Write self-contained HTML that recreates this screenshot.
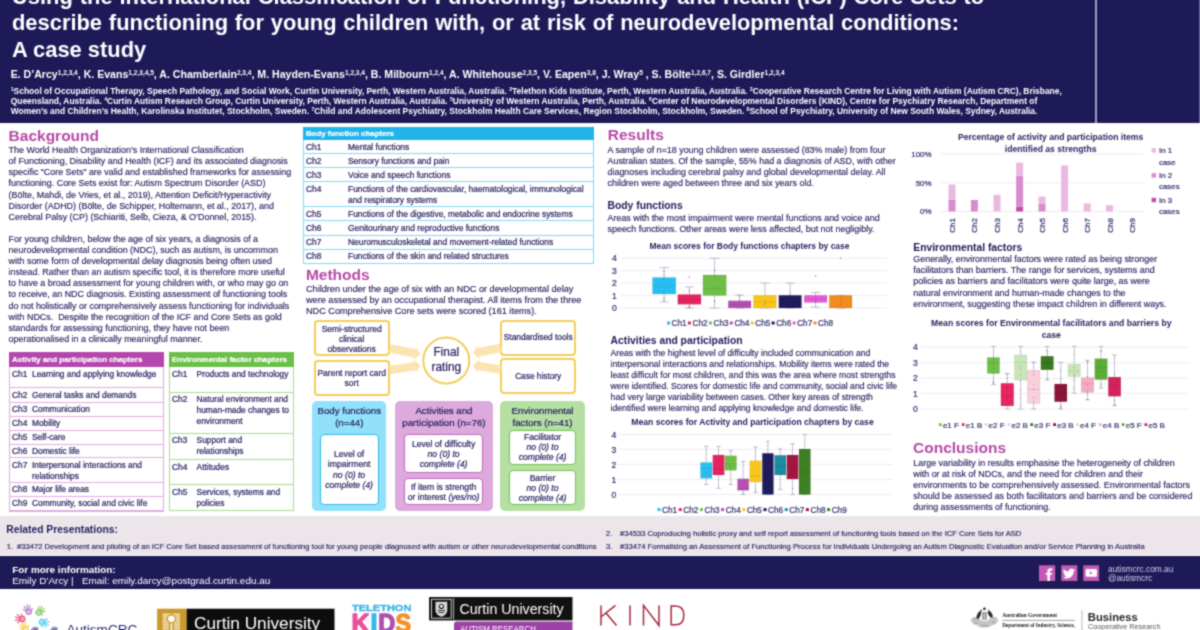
<!DOCTYPE html><html><head><meta charset="utf-8"><title>poster</title><style>
*{margin:0;padding:0;box-sizing:border-box}
html,body{width:1200px;height:630px;overflow:hidden;background:#fff}
body{position:relative;font-family:"Liberation Sans",sans-serif;color:#241f5f}
#wrap{position:absolute;left:0;top:0;width:1200px;height:630px;overflow:hidden;background:#fff;filter:url(#soft);will-change:transform}
.abs{position:absolute;white-space:nowrap}
.hdr{position:absolute;left:0;top:0;width:1200px;height:122.7px;background:#1e1a58}
.title{font-weight:bold;color:#fff}
.auth{font-weight:bold;color:#fff}
.auth sup,.aff sup{font-size:62%;line-height:0;vertical-align:baseline;position:relative;top:-0.52em}
.aff{font-weight:bold;color:#fff}
.h1{font-weight:bold;color:#b549a6}
.h2{font-weight:bold;color:#1f1a5a}
.p{color:#241f5f;-webkit-text-stroke:0.15px}
.ct{font-size:8.6px;font-weight:bold;color:#241f5f;line-height:12px;text-align:center}
.dg{text-align:center;color:#241f5f}
.tt,.dg{-webkit-text-stroke:0.22px}
.rp{font-size:7.645px;line-height:9px;color:#241f5f;-webkit-text-stroke:0.15px}
.tbl{position:absolute;border-collapse:collapse;font-size:8px;color:#241f5f}
.band{position:absolute;left:0;top:515.6px;width:1200px;height:39.7px;background:#ece6ea}
.foot{position:absolute;left:0;top:556.3px;width:1200px;height:33.2px;background:#1e1a58}
</style></head><body><svg width="0" height="0" style="position:absolute"><filter id="soft" x="0" y="0" width="100%" height="100%" color-interpolation-filters="sRGB"><feConvolveMatrix order="3" kernelMatrix="1 2 1 2 8 2 1 2 1" edgeMode="duplicate" preserveAlpha="true"/></filter></svg><div id="wrap"><div class="hdr"></div>
<div class="abs" style="left:1095.3px;top:0;width:1.5px;height:122.7px;background:#a09ec4"></div>
<div class="abs" style="left:1199px;top:0;width:1px;height:122.7px;background:#6a6696"></div>
<div class="abs title" id="ti0" style="left:12.00px;top:-17px;font-size:21.90px;line-height:27px;height:27px;word-spacing:0.85px;">Using the International Classification of Functioning, Disability and Health (ICF) Core Sets to</div>
<div class="abs title" id="ti1" style="left:12.00px;top:9px;font-size:21.90px;line-height:27px;height:27px;word-spacing:0.74px;">describe functioning for young children with, or at risk of neurodevelopmental conditions:</div>
<div class="abs title" id="ti2" style="left:12.00px;top:36px;font-size:21.90px;line-height:27px;height:27px;">A case study</div>
<div class="abs auth" id="au" style="left:10.70px;top:68px;font-size:10.58px;line-height:13px;height:13px;">E. D’Arcy<sup>1,2,3,4</sup>, K. Evans<sup>1,2,3,4,5</sup>, A. Chamberlain<sup>2,3,4</sup>, M. Hayden-Evans<sup>1,2,3,4</sup>, B. Milbourn<sup>1,2,4</sup>, A. Whitehouse<sup>2,3,5</sup>, V. Eapen<sup>3,8</sup>, J. Wray<sup>5</sup> , S. Bölte<sup>1,2,6,7</sup>, S. Girdler<sup>1,2,3,4</sup></div>
<div class="abs aff" id="af0" style="left:10.70px;top:86px;font-size:8.45px;line-height:10px;height:10px;"><sup>1</sup>School of Occupational Therapy, Speech Pathology, and Social Work, Curtin University, Perth, Western Australia, Australia. <sup>2</sup>Telethon Kids Institute, Perth, Western Australia, Australia. <sup>3</sup>Cooperative Research Centre for Living with Autism (Autism CRC), Brisbane,</div>
<div class="abs aff" id="af1" style="left:10.70px;top:96px;font-size:8.45px;line-height:10px;height:10px;">Queensland, Australia. <sup>4</sup>Curtin Autism Research Group, Curtin University, Perth, Western Australia, Australia. <sup>5</sup>University of Western Australia, Perth, Australia. <sup>6</sup>Center of Neurodevelopmental Disorders (KIND), Centre for Psychiatry Research, Department of</div>
<div class="abs aff" id="af2" style="left:10.70px;top:106px;font-size:8.45px;line-height:10px;height:10px;">Women’s and Children’s Health, Karolinska Institutet, Stockholm, Sweden. <sup>7</sup>Child and Adolescent Psychiatry, Stockholm Health Care Services, Region Stockholm, Stockholm, Sweden. <sup>8</sup>School of Psychiatry, University of New South Wales, Sydney, Australia.</div>
<div class="abs h1" style="left:8.60px;top:128px;font-size:15.50px;line-height:16px;height:16px;">Background</div>
<div class="abs p" id="bg0" style="left:8.60px;top:145px;font-size:8.93px;line-height:11px;height:11px;">The World Health Organization’s International Classification</div>
<div class="abs p" id="bg1" style="left:8.60px;top:156px;font-size:8.93px;line-height:11px;height:11px;">of Functioning, Disability and Health (ICF) and its associated diagnosis</div>
<div class="abs p" id="bg2" style="left:8.60px;top:167px;font-size:8.93px;line-height:11px;height:11px;">specific “Core Sets” are valid and established frameworks for assessing</div>
<div class="abs p" id="bg3" style="left:8.60px;top:178px;font-size:8.93px;line-height:11px;height:11px;">functioning. Core Sets exist for: Autism Spectrum Disorder (ASD)</div>
<div class="abs p" id="bg4" style="left:8.60px;top:190px;font-size:8.93px;line-height:11px;height:11px;">(Bölte, Mahdi, de Vries, et al., 2019), Attention Deficit/Hyperactivity</div>
<div class="abs p" id="bg5" style="left:8.60px;top:201px;font-size:8.93px;line-height:11px;height:11px;">Disorder (ADHD) (Bölte, de Schipper, Holtemann, et al., 2017), and</div>
<div class="abs p" id="bg6" style="left:8.60px;top:212px;font-size:8.93px;line-height:11px;height:11px;">Cerebral Palsy (CP) (Schiariti, Selb, Cieza, &amp; O’Donnel, 2015).</div>
<div class="abs p" id="bg8" style="left:8.60px;top:234px;font-size:8.93px;line-height:11px;height:11px;">For young children, below the age of six years, a diagnosis of a</div>
<div class="abs p" id="bg9" style="left:8.60px;top:245px;font-size:8.93px;line-height:11px;height:11px;">neurodevelopmental condition (NDC), such as autism, is uncommon</div>
<div class="abs p" id="bg10" style="left:8.60px;top:256px;font-size:8.93px;line-height:11px;height:11px;">with some form of developmental delay diagnosis being often used</div>
<div class="abs p" id="bg11" style="left:8.60px;top:267px;font-size:8.93px;line-height:11px;height:11px;">instead. Rather than an autism specific tool, it is therefore more useful</div>
<div class="abs p" id="bg12" style="left:8.60px;top:278px;font-size:8.93px;line-height:11px;height:11px;">to have a broad assessment for young children with, or who may go on</div>
<div class="abs p" id="bg13" style="left:8.60px;top:289px;font-size:8.93px;line-height:11px;height:11px;">to receive, an NDC diagnosis. Existing assessment of functioning tools</div>
<div class="abs p" id="bg14" style="left:8.60px;top:301px;font-size:8.93px;line-height:11px;height:11px;">do not holistically or comprehensively assess functioning for individuals</div>
<div class="abs p" id="bg15" style="left:8.60px;top:312px;font-size:8.93px;line-height:11px;height:11px;">with NDCs.&nbsp; Despite the recognition of the ICF and Core Sets as gold</div>
<div class="abs p" id="bg16" style="left:8.60px;top:323px;font-size:8.93px;line-height:11px;height:11px;">standards for assessing functioning, they have not been</div>
<div class="abs p" id="bg17" style="left:8.60px;top:334px;font-size:8.93px;line-height:11px;height:11px;">operationalised in a clinically meaningful manner.</div>
<div class="abs" style="left:8.6px;top:352.0px;width:155.7px;height:159.0px;border:1px solid #e6a9df;background:#fff"></div>
<div class="abs" style="left:8.6px;top:352.0px;width:155.7px;height:15.0px;background:#b447ad"></div>
<div class="abs tt" style="left:12.0px;top:354.4px;font-size:7.96px;line-height:11px;color:#fff;font-weight:bold">Activity and participation chapters</div>
<div class="abs" style="left:8.6px;top:386.9px;width:155.7px;height:1px;background:#e6a9df"></div>
<div class="abs tt" style="left:12.0px;top:369.1px;font-size:8.35px;line-height:11px">Ch1</div>
<div class="abs tt" style="left:32.0px;top:369.1px;font-size:8.35px;line-height:11px">Learning and applying knowledge</div>
<div class="abs" style="left:8.6px;top:401.8px;width:155.7px;height:1px;background:#e6a9df"></div>
<div class="abs tt" style="left:12.0px;top:389.5px;font-size:8.35px;line-height:11px">Ch2</div>
<div class="abs tt" style="left:32.0px;top:389.5px;font-size:8.35px;line-height:11px">General tasks and demands</div>
<div class="abs" style="left:8.6px;top:415.8px;width:155.7px;height:1px;background:#e6a9df"></div>
<div class="abs tt" style="left:12.0px;top:404.4px;font-size:8.35px;line-height:11px">Ch3</div>
<div class="abs tt" style="left:32.0px;top:404.4px;font-size:8.35px;line-height:11px">Communication</div>
<div class="abs" style="left:8.6px;top:429.8px;width:155.7px;height:1px;background:#e6a9df"></div>
<div class="abs tt" style="left:12.0px;top:418.4px;font-size:8.35px;line-height:11px">Ch4</div>
<div class="abs tt" style="left:32.0px;top:418.4px;font-size:8.35px;line-height:11px">Mobility</div>
<div class="abs" style="left:8.6px;top:443.5px;width:155.7px;height:1px;background:#e6a9df"></div>
<div class="abs tt" style="left:12.0px;top:432.4px;font-size:8.35px;line-height:11px">Ch5</div>
<div class="abs tt" style="left:32.0px;top:432.4px;font-size:8.35px;line-height:11px">Self-care</div>
<div class="abs" style="left:8.6px;top:457.2px;width:155.7px;height:1px;background:#e6a9df"></div>
<div class="abs tt" style="left:12.0px;top:446.1px;font-size:8.35px;line-height:11px">Ch6</div>
<div class="abs tt" style="left:32.0px;top:446.1px;font-size:8.35px;line-height:11px">Domestic life</div>
<div class="abs" style="left:8.6px;top:481.8px;width:155.7px;height:1px;background:#e6a9df"></div>
<div class="abs tt" style="left:12.0px;top:459.8px;font-size:8.35px;line-height:11px">Ch7</div>
<div class="abs tt" style="left:32.0px;top:459.8px;font-size:8.35px;line-height:11px">Interpersonal interactions and<br>relationships</div>
<div class="abs" style="left:8.6px;top:495.8px;width:155.7px;height:1px;background:#e6a9df"></div>
<div class="abs tt" style="left:12.0px;top:484.4px;font-size:8.35px;line-height:11px">Ch8</div>
<div class="abs tt" style="left:32.0px;top:484.4px;font-size:8.35px;line-height:11px">Major life areas</div>
<div class="abs" style="left:8.6px;top:510.5px;width:155.7px;height:1px;background:#e6a9df"></div>
<div class="abs tt" style="left:12.0px;top:498.4px;font-size:8.35px;line-height:11px">Ch9</div>
<div class="abs tt" style="left:32.0px;top:498.4px;font-size:8.35px;line-height:11px">Community, social and civic life</div>
<div class="abs" style="left:168.6px;top:352.0px;width:125.1px;height:158.8px;border:1px solid #a9dd92;background:#fff"></div>
<div class="abs" style="left:168.6px;top:352.0px;width:125.1px;height:15.0px;background:#6cc04a"></div>
<div class="abs tt" style="left:172.0px;top:354.4px;font-size:7.96px;line-height:11px;color:#fff;font-weight:bold">Environmental factor chapters</div>
<div class="abs" style="left:168.6px;top:391.8px;width:125.1px;height:1px;background:#a9dd92"></div>
<div class="abs tt" style="left:172.0px;top:369.1px;font-size:8.35px;line-height:11px">Ch1</div>
<div class="abs tt" style="left:196.6px;top:369.1px;font-size:8.35px;line-height:11px">Products and technology</div>
<div class="abs" style="left:168.6px;top:432.5px;width:125.1px;height:1px;background:#a9dd92"></div>
<div class="abs tt" style="left:172.0px;top:394.4px;font-size:8.35px;line-height:11px">Ch2</div>
<div class="abs tt" style="left:196.6px;top:394.4px;font-size:8.35px;line-height:11px">Natural environment and<br>human-made changes to<br>environment</div>
<div class="abs" style="left:168.6px;top:458.9px;width:125.1px;height:1px;background:#a9dd92"></div>
<div class="abs tt" style="left:172.0px;top:435.1px;font-size:8.35px;line-height:11px">Ch3</div>
<div class="abs tt" style="left:196.6px;top:435.1px;font-size:8.35px;line-height:11px">Support and<br>relationships</div>
<div class="abs" style="left:168.6px;top:484.1px;width:125.1px;height:1px;background:#a9dd92"></div>
<div class="abs tt" style="left:172.0px;top:461.5px;font-size:8.35px;line-height:11px">Ch4</div>
<div class="abs tt" style="left:196.6px;top:461.5px;font-size:8.35px;line-height:11px">Attitudes</div>
<div class="abs" style="left:168.6px;top:510.3px;width:125.1px;height:1px;background:#a9dd92"></div>
<div class="abs tt" style="left:172.0px;top:486.7px;font-size:8.35px;line-height:11px">Ch5</div>
<div class="abs tt" style="left:196.6px;top:486.7px;font-size:8.35px;line-height:11px">Services, systems and<br>policies</div>
<div class="abs" style="left:302.7px;top:127.0px;width:291.6px;height:136.8px;border:1px solid #84d5f5;background:#fff"></div>
<div class="abs" style="left:302.7px;top:127.0px;width:291.6px;height:13.0px;background:#21b4ea"></div>
<div class="abs tt" style="left:305.9px;top:127.9px;font-size:7.90px;line-height:11px;color:#fff;font-weight:bold">Body function chapters</div>
<div class="abs" style="left:302.7px;top:153.2px;width:291.6px;height:1px;background:#84d5f5"></div>
<div class="abs tt" style="left:305.9px;top:142.2px;font-size:8.42px;line-height:11px">Ch1</div>
<div class="abs tt" style="left:348.0px;top:142.2px;font-size:8.42px;line-height:11px">Mental functions</div>
<div class="abs" style="left:302.7px;top:167.3px;width:291.6px;height:1px;background:#84d5f5"></div>
<div class="abs tt" style="left:305.9px;top:155.9px;font-size:8.42px;line-height:11px">Ch2</div>
<div class="abs tt" style="left:348.0px;top:155.9px;font-size:8.42px;line-height:11px">Sensory functions and pain</div>
<div class="abs" style="left:302.7px;top:181.1px;width:291.6px;height:1px;background:#84d5f5"></div>
<div class="abs tt" style="left:305.9px;top:170.0px;font-size:8.42px;line-height:11px">Ch3</div>
<div class="abs tt" style="left:348.0px;top:170.0px;font-size:8.42px;line-height:11px">Voice and speech functions</div>
<div class="abs" style="left:302.7px;top:206.1px;width:291.6px;height:1px;background:#84d5f5"></div>
<div class="abs tt" style="left:305.9px;top:183.8px;font-size:8.42px;line-height:11px">Ch4</div>
<div class="abs tt" style="left:348.0px;top:183.8px;font-size:8.42px;line-height:11px">Functions of the cardiovascular, haematological, immunological<br>and respiratory systems</div>
<div class="abs" style="left:302.7px;top:220.1px;width:291.6px;height:1px;background:#84d5f5"></div>
<div class="abs tt" style="left:305.9px;top:208.8px;font-size:8.42px;line-height:11px">Ch5</div>
<div class="abs tt" style="left:348.0px;top:208.8px;font-size:8.42px;line-height:11px">Functions of the digestive, metabolic and endocrine systems</div>
<div class="abs" style="left:302.7px;top:234.5px;width:291.6px;height:1px;background:#84d5f5"></div>
<div class="abs tt" style="left:305.9px;top:222.8px;font-size:8.42px;line-height:11px">Ch6</div>
<div class="abs tt" style="left:348.0px;top:222.8px;font-size:8.42px;line-height:11px">Genitourinary and reproductive functions</div>
<div class="abs" style="left:302.7px;top:248.6px;width:291.6px;height:1px;background:#84d5f5"></div>
<div class="abs tt" style="left:305.9px;top:237.2px;font-size:8.42px;line-height:11px">Ch7</div>
<div class="abs tt" style="left:348.0px;top:237.2px;font-size:8.42px;line-height:11px">Neuromusculoskeletal and movement-related functions</div>
<div class="abs" style="left:302.7px;top:263.3px;width:291.6px;height:1px;background:#84d5f5"></div>
<div class="abs tt" style="left:305.9px;top:251.3px;font-size:8.42px;line-height:11px">Ch8</div>
<div class="abs tt" style="left:348.0px;top:251.3px;font-size:8.42px;line-height:11px">Functions of the skin and related structures</div>
<div class="abs h1" style="left:305.90px;top:267px;font-size:15.50px;line-height:16px;height:16px;">Methods</div>
<div class="abs p" id="meth0" style="left:306.00px;top:284px;font-size:9.14px;line-height:11px;height:11px;">Children under the age of six with an NDC or developmental delay</div>
<div class="abs p" id="meth1" style="left:306.00px;top:295px;font-size:9.14px;line-height:11px;height:11px;">were assessed by an occupational therapist. All items from the three</div>
<div class="abs p" id="meth2" style="left:306.00px;top:306px;font-size:9.14px;line-height:11px;height:11px;">NDC Comprehensive Core sets were scored (161 items).</div>
<div class="abs h1" style="left:607.80px;top:127px;font-size:15.50px;line-height:16px;height:16px;">Results</div>
<div class="abs p" id="res0" style="left:607.50px;top:145px;font-size:8.93px;line-height:11px;height:11px;">A sample of n=18 young children were assessed (83% male) from four</div>
<div class="abs p" id="res1" style="left:607.50px;top:156px;font-size:8.93px;line-height:11px;height:11px;">Australian states. Of the sample, 55% had a diagnosis of ASD, with other</div>
<div class="abs p" id="res2" style="left:607.50px;top:167px;font-size:8.93px;line-height:11px;height:11px;">diagnoses including cerebral palsy and global developmental delay. All</div>
<div class="abs p" id="res3" style="left:607.50px;top:178px;font-size:8.93px;line-height:11px;height:11px;">children were aged between three and six years old.</div>
<div class="abs h2" style="left:607.50px;top:200px;font-size:10.33px;line-height:11px;height:11px;">Body functions</div>
<div class="abs p" id="bf0" style="left:607.50px;top:213px;font-size:8.93px;line-height:11px;height:11px;">Areas with the most impairment were mental functions and voice and</div>
<div class="abs p" id="bf1" style="left:607.50px;top:224px;font-size:8.93px;line-height:11px;height:11px;">speech functions. Other areas were less affected, but not negligibly.</div>
<div class="abs ct" style="left:599.5px;width:300px;top:239.7px;font-size:8.47px">Mean scores for Body functions chapters by case</div>
<div class="abs h2" style="left:610.60px;top:335px;font-size:10.33px;line-height:11px;height:11px;">Activities and participation</div>
<div class="abs p" id="ap0" style="left:610.60px;top:348px;font-size:8.63px;line-height:11px;height:11px;">Areas with the highest level of difficulty included communication and</div>
<div class="abs p" id="ap1" style="left:610.60px;top:359px;font-size:8.63px;line-height:11px;height:11px;">interpersonal interactions and relationships. Mobility items were rated the</div>
<div class="abs p" id="ap2" style="left:610.60px;top:370px;font-size:8.63px;line-height:11px;height:11px;">least difficult for most children, and this was the area where most strengths</div>
<div class="abs p" id="ap3" style="left:610.60px;top:381px;font-size:8.63px;line-height:11px;height:11px;">were identified. Scores for domestic life and community, social and civic life</div>
<div class="abs p" id="ap4" style="left:610.60px;top:392px;font-size:8.63px;line-height:11px;height:11px;">had very large variability between cases. Other key areas of strength</div>
<div class="abs p" id="ap5" style="left:610.60px;top:403px;font-size:8.63px;line-height:11px;height:11px;">identified were learning and applying knowledge and domestic life.</div>
<div class="abs ct" style="left:602.5px;width:300px;top:416px;font-size:8.59px">Mean scores for Activity and participation chapters by case</div>
<div class="abs ct" style="left:900.6px;width:300px;top:130.7px;font-size:8.61px">Percentage of activity and participation items<br>identified as strengths</div>
<div class="abs h2" style="left:913.30px;top:242px;font-size:10.33px;line-height:11px;height:11px;">Environmental factors</div>
<div class="abs p" id="ef0" style="left:913.30px;top:254px;font-size:8.93px;line-height:11px;height:11px;">Generally, environmental factors were rated as being stronger</div>
<div class="abs p" id="ef1" style="left:913.30px;top:265px;font-size:8.93px;line-height:11px;height:11px;">facilitators than barriers. The range for services, systems and</div>
<div class="abs p" id="ef2" style="left:913.30px;top:276px;font-size:8.93px;line-height:11px;height:11px;">policies as barriers and facilitators were quite large, as were</div>
<div class="abs p" id="ef3" style="left:913.30px;top:288px;font-size:8.93px;line-height:11px;height:11px;">natural environment and human-made changes to the</div>
<div class="abs p" id="ef4" style="left:913.30px;top:299px;font-size:8.93px;line-height:11px;height:11px;">environment, suggesting these impact children in different ways.</div>
<div class="abs ct" style="left:901.3px;width:300px;top:316.7px;font-size:8.69px">Mean scores for Environmental facilitators and barriers by<br>case</div>
<div class="abs h1" style="left:913.00px;top:440px;font-size:15.50px;line-height:16px;height:16px;">Conclusions</div>
<div class="abs p" id="con0" style="left:913.30px;top:458px;font-size:8.93px;line-height:11px;height:11px;">Large variability in results emphasise the heterogeneity of children</div>
<div class="abs p" id="con1" style="left:913.30px;top:469px;font-size:8.93px;line-height:11px;height:11px;">with or at risk of NDCs, and the need for children and their</div>
<div class="abs p" id="con2" style="left:913.30px;top:480px;font-size:8.93px;line-height:11px;height:11px;">environments to be comprehensively assessed. Environmental factors</div>
<div class="abs p" id="con3" style="left:913.30px;top:491px;font-size:8.93px;line-height:11px;height:11px;">should be assessed as both facilitators and barriers and be considered</div>
<div class="abs p" id="con4" style="left:913.30px;top:502px;font-size:8.93px;line-height:11px;height:11px;">during assessments of functioning.</div>
<div class="abs" style="left:313.8px;top:320.3px;width:75.8px;height:36.1px;border:2px solid #f4cd58;border-radius:4px;background:#fff"></div><div class="abs dg" style="left:313.8px;width:75.8px;top:323.6px;font-size:8.50px;line-height:10.00px">Semi-structured<br>clinical<br>observations</div>
<div class="abs" style="left:313.8px;top:360.0px;width:75.8px;height:36.0px;border:2px solid #f4cd58;border-radius:4px;background:#fff"></div><div class="abs dg" style="left:313.8px;width:75.8px;top:367.7px;font-size:8.50px;line-height:10.20px">Parent report card<br>sort</div>
<div class="abs" style="left:500.4px;top:319.7px;width:75.6px;height:35.9px;border:2px solid #f4cd58;border-radius:4px;background:#fff"></div><div class="abs dg" style="left:500.4px;width:75.6px;top:332.4px;font-size:8.30px;line-height:10.00px">Standardised tools</div>
<div class="abs" style="left:500.4px;top:358.1px;width:75.6px;height:36.4px;border:2px solid #f4cd58;border-radius:4px;background:#fff"></div><div class="abs dg" style="left:500.4px;width:75.6px;top:371.2px;font-size:8.30px;line-height:10.00px">Case history</div>
<svg class="abs" style="left:0;top:0" width="1200" height="630" viewBox="0 0 1200 630"><polygon points="389.0,352.5 414.0,357.4 413.5,359.9 420.3,354.4 416.1,346.7 415.6,349.2 390.6,344.3" fill="#fce4b1"/><polygon points="390.5,374.2 415.4,370.2 415.8,372.8 420.3,365.2 413.7,359.4 414.1,361.9 389.1,366.0" fill="#fce4b1"/><polygon points="500.0,343.8 477.7,348.1 477.2,345.6 473.0,353.3 479.8,358.9 479.3,356.4 501.6,352.0" fill="#fce4b1"/><polygon points="501.4,365.3 479.2,361.9 479.6,359.4 473.0,365.2 477.5,372.7 477.9,370.2 500.2,373.7" fill="#fce4b1"/><circle cx="446.3" cy="360.5" r="23" fill="#fff" stroke="#f4cd58" stroke-width="2"/></svg>
<div class="abs dg" style="left:416.3px;width:60px;top:345.0px;font-size:11.9px;line-height:15.3px">Final<br>rating</div>
<div class="abs" style="left:312.2px;top:401.0px;width:74.2px;height:109.5px;background:#92e1fa;border-radius:5px"></div><div class="abs dg" style="left:302.2px;width:94.2px;top:405.4px;font-size:9.7px;line-height:11.6px">Body functions<br>(n=44)</div><div class="abs" style="left:319.5px;top:434.4px;width:59.2px;height:70.6px;border:1.7px solid #2db9ee;border-radius:4px;background:#fff"></div><div class="abs dg" style="left:314.5px;width:69.2px;top:449.1px;font-size:8.6px;line-height:10.2px">Level of<br>impairment<br><i>no (0) to</i><br><i>complete (4)</i></div>
<div class="abs" style="left:394.9px;top:401.0px;width:98.1px;height:109.5px;background:#dcaadd;border-radius:5px"></div><div class="abs dg" style="left:384.9px;width:118.1px;top:405.4px;font-size:9.7px;line-height:11.6px">Activities and<br>participation (n=76)</div><div class="abs" style="left:404.1px;top:434.4px;width:79.0px;height:39.1px;border:1.7px solid #c466bd;border-radius:4px;background:#fff"></div><div class="abs dg" style="left:399.1px;width:89.0px;top:438.7px;font-size:8.6px;line-height:10.2px">Level of difficulty<br><i>no (0) to</i><br><i>complete (4)</i></div><div class="abs" style="left:404.1px;top:478.4px;width:79.0px;height:26.6px;border:1.7px solid #c466bd;border-radius:4px;background:#fff"></div><div class="abs dg" style="left:399.1px;width:89.0px;top:481.7px;font-size:8.6px;line-height:10.2px">If item is strength<br>or interest <i>(yes/no)</i></div>
<div class="abs" style="left:500.3px;top:401.0px;width:84.5px;height:109.5px;background:#b6dfa3;border-radius:5px"></div><div class="abs dg" style="left:490.3px;width:104.5px;top:405.4px;font-size:9.7px;line-height:11.6px">Environmental<br>factors (n=41)</div><div class="abs" style="left:508.7px;top:429.6px;width:67.7px;height:35.5px;border:1.7px solid #6fc24c;border-radius:4px;background:#fff"></div><div class="abs dg" style="left:503.7px;width:77.7px;top:431.7px;font-size:8.6px;line-height:10.2px">Facilitator<br><i>no (0) to</i><br><i>complete (4)</i></div><div class="abs" style="left:508.7px;top:469.9px;width:67.7px;height:35.1px;border:1.7px solid #6fc24c;border-radius:4px;background:#fff"></div><div class="abs dg" style="left:503.7px;width:77.7px;top:472.5px;font-size:8.6px;line-height:10.2px">Barrier<br><i>no (0) to</i><br><i>complete (4)</i></div>
<svg class="abs" style="left:0;top:0" width="1200" height="630" viewBox="0 0 1200 630" font-family="Liberation Sans, sans-serif"><style>.cx text{stroke:#35306e;stroke-width:0.22px}</style><g class="cx"><line x1="621.0" x2="887.0" y1="308.0" y2="308.0" stroke="#e9e8f3" stroke-width="0.8"/><text x="614.5" y="311.0" font-size="8.6" fill="#35306e" text-anchor="middle">0</text><line x1="621.0" x2="887.0" y1="295.6" y2="295.6" stroke="#e9e8f3" stroke-width="0.8"/><text x="614.5" y="298.6" font-size="8.6" fill="#35306e" text-anchor="middle">1</text><line x1="621.0" x2="887.0" y1="283.1" y2="283.1" stroke="#e9e8f3" stroke-width="0.8"/><text x="614.5" y="286.1" font-size="8.6" fill="#35306e" text-anchor="middle">2</text><line x1="621.0" x2="887.0" y1="270.6" y2="270.6" stroke="#e9e8f3" stroke-width="0.8"/><text x="614.5" y="273.6" font-size="8.6" fill="#35306e" text-anchor="middle">3</text><line x1="621.0" x2="887.0" y1="258.2" y2="258.2" stroke="#e9e8f3" stroke-width="0.8"/><text x="614.5" y="261.2" font-size="8.6" fill="#35306e" text-anchor="middle">4</text><line x1="664.1" x2="664.1" y1="267.5" y2="302.0" stroke="#8d8aad" stroke-width="0.55"/><line x1="659.5" x2="668.8" y1="267.5" y2="267.5" stroke="#8d8aad" stroke-width="0.55"/><line x1="659.5" x2="668.8" y1="302.0" y2="302.0" stroke="#8d8aad" stroke-width="0.55"/><rect x="652.5" y="277.5" width="23.3" height="16.5" fill="#27bff2" stroke="#000" stroke-opacity="0.13" stroke-width="0.5"/><line x1="652.5" x2="675.8" y1="286.3" y2="286.3" stroke="#000" stroke-opacity="0.28" stroke-width="0.5" stroke-dasharray="1.2 0.6"/><circle cx="664.1" cy="271.0" r="0.6" fill="#1a8fc0"/><circle cx="664.1" cy="275.0" r="0.6" fill="#1a8fc0"/><circle cx="664.1" cy="298.0" r="0.6" fill="#1a8fc0"/><circle cx="664.1" cy="300.0" r="0.6" fill="#1a8fc0"/><circle cx="663.9" cy="290.8" r="0.5" fill="#2a2550" fill-opacity="0.55"/><circle cx="663.8" cy="279.5" r="0.5" fill="#2a2550" fill-opacity="0.55"/><circle cx="664.0" cy="283.5" r="0.5" fill="#2a2550" fill-opacity="0.55"/><line x1="689.4" x2="689.4" y1="287.0" y2="308.0" stroke="#8d8aad" stroke-width="0.55"/><line x1="684.8" x2="694.0" y1="287.0" y2="287.0" stroke="#8d8aad" stroke-width="0.55"/><line x1="684.8" x2="694.0" y1="308.0" y2="308.0" stroke="#8d8aad" stroke-width="0.55"/><rect x="677.8" y="294.5" width="23.2" height="9.8" fill="#e3245f" stroke="#000" stroke-opacity="0.13" stroke-width="0.5"/><line x1="677.8" x2="701.0" y1="300.0" y2="300.0" stroke="#000" stroke-opacity="0.28" stroke-width="0.5" stroke-dasharray="1.2 0.6"/><circle cx="689.4" cy="277.0" r="0.6" fill="#a01540"/><circle cx="689.4" cy="291.0" r="0.6" fill="#a01540"/><circle cx="689.4" cy="306.8" r="0.5" fill="#2a2550" fill-opacity="0.55"/><circle cx="689.3" cy="307.2" r="0.5" fill="#2a2550" fill-opacity="0.55"/><circle cx="689.1" cy="306.5" r="0.5" fill="#2a2550" fill-opacity="0.55"/><line x1="714.6" x2="714.6" y1="258.2" y2="308.0" stroke="#8d8aad" stroke-width="0.55"/><line x1="710.0" x2="719.3" y1="258.2" y2="258.2" stroke="#8d8aad" stroke-width="0.55"/><line x1="710.0" x2="719.3" y1="308.0" y2="308.0" stroke="#8d8aad" stroke-width="0.55"/><rect x="703.0" y="275.0" width="23.3" height="20.5" fill="#6fbf46" stroke="#000" stroke-opacity="0.13" stroke-width="0.5"/><line x1="703.0" x2="726.3" y1="288.8" y2="288.8" stroke="#000" stroke-opacity="0.28" stroke-width="0.5" stroke-dasharray="1.2 0.6"/><circle cx="714.6" cy="270.0" r="0.6" fill="#3d7f23"/><circle cx="714.6" cy="301.0" r="0.6" fill="#3d7f23"/><circle cx="714.9" cy="286.9" r="0.5" fill="#2a2550" fill-opacity="0.55"/><circle cx="714.4" cy="301.8" r="0.5" fill="#2a2550" fill-opacity="0.55"/><circle cx="715.0" cy="276.8" r="0.5" fill="#2a2550" fill-opacity="0.55"/><line x1="739.6" x2="739.6" y1="295.0" y2="308.0" stroke="#8d8aad" stroke-width="0.55"/><line x1="735.1" x2="744.2" y1="295.0" y2="295.0" stroke="#8d8aad" stroke-width="0.55"/><line x1="735.1" x2="744.2" y1="308.0" y2="308.0" stroke="#8d8aad" stroke-width="0.55"/><rect x="728.3" y="300.8" width="22.7" height="7.2" fill="#b451b2" stroke="#000" stroke-opacity="0.13" stroke-width="0.5"/><line x1="728.3" x2="751.0" y1="304.5" y2="304.5" stroke="#000" stroke-opacity="0.28" stroke-width="0.5" stroke-dasharray="1.2 0.6"/><circle cx="739.6" cy="300.5" r="0.5" fill="#2a2550" fill-opacity="0.55"/><circle cx="739.3" cy="295.3" r="0.5" fill="#2a2550" fill-opacity="0.55"/><circle cx="739.5" cy="296.8" r="0.5" fill="#2a2550" fill-opacity="0.55"/><line x1="764.9" x2="764.9" y1="283.0" y2="308.0" stroke="#8d8aad" stroke-width="0.55"/><line x1="760.3" x2="769.5" y1="283.0" y2="283.0" stroke="#8d8aad" stroke-width="0.55"/><line x1="760.3" x2="769.5" y1="308.0" y2="308.0" stroke="#8d8aad" stroke-width="0.55"/><rect x="753.5" y="295.3" width="22.8" height="12.7" fill="#f9c51b" stroke="#000" stroke-opacity="0.13" stroke-width="0.5"/><line x1="753.5" x2="776.3" y1="302.0" y2="302.0" stroke="#000" stroke-opacity="0.28" stroke-width="0.5" stroke-dasharray="1.2 0.6"/><circle cx="764.6" cy="304.4" r="0.5" fill="#2a2550" fill-opacity="0.55"/><circle cx="765.2" cy="300.3" r="0.5" fill="#2a2550" fill-opacity="0.55"/><circle cx="765.0" cy="303.5" r="0.5" fill="#2a2550" fill-opacity="0.55"/><line x1="790.1" x2="790.1" y1="283.0" y2="308.0" stroke="#8d8aad" stroke-width="0.55"/><line x1="785.6" x2="794.7" y1="283.0" y2="283.0" stroke="#8d8aad" stroke-width="0.55"/><line x1="785.6" x2="794.7" y1="308.0" y2="308.0" stroke="#8d8aad" stroke-width="0.55"/><rect x="778.8" y="295.3" width="22.7" height="12.7" fill="#1f1b5b" stroke="#000" stroke-opacity="0.13" stroke-width="0.5"/><circle cx="790.0" cy="292.0" r="0.5" fill="#2a2550" fill-opacity="0.55"/><circle cx="789.8" cy="294.3" r="0.5" fill="#2a2550" fill-opacity="0.55"/><circle cx="789.9" cy="306.5" r="0.5" fill="#2a2550" fill-opacity="0.55"/><line x1="815.6" x2="815.6" y1="292.5" y2="307.0" stroke="#8d8aad" stroke-width="0.55"/><line x1="811.1" x2="820.2" y1="292.5" y2="292.5" stroke="#8d8aad" stroke-width="0.55"/><line x1="811.1" x2="820.2" y1="307.0" y2="307.0" stroke="#8d8aad" stroke-width="0.55"/><rect x="804.3" y="295.3" width="22.7" height="7.2" fill="#e65ad6" stroke="#000" stroke-opacity="0.13" stroke-width="0.5"/><line x1="804.3" x2="827.0" y1="299.0" y2="299.0" stroke="#000" stroke-opacity="0.28" stroke-width="0.5" stroke-dasharray="1.2 0.6"/><circle cx="815.6" cy="275.8" r="0.6" fill="#7a3a78"/><circle cx="815.6" cy="297.1" r="0.5" fill="#2a2550" fill-opacity="0.55"/><circle cx="815.7" cy="302.4" r="0.5" fill="#2a2550" fill-opacity="0.55"/><circle cx="815.5" cy="300.4" r="0.5" fill="#2a2550" fill-opacity="0.55"/><line x1="840.6" x2="840.6" y1="295.3" y2="308.0" stroke="#8d8aad" stroke-width="0.55"/><line x1="836.1" x2="845.2" y1="295.3" y2="295.3" stroke="#8d8aad" stroke-width="0.55"/><line x1="836.1" x2="845.2" y1="308.0" y2="308.0" stroke="#8d8aad" stroke-width="0.55"/><rect x="829.3" y="295.3" width="22.7" height="12.7" fill="#f18b1e" stroke="#000" stroke-opacity="0.13" stroke-width="0.5"/><circle cx="840.6" cy="258.2" r="0.6" fill="#7a5a3a"/><circle cx="840.8" cy="297.9" r="0.5" fill="#2a2550" fill-opacity="0.55"/><circle cx="840.7" cy="304.9" r="0.5" fill="#2a2550" fill-opacity="0.55"/><circle cx="841.0" cy="301.3" r="0.5" fill="#2a2550" fill-opacity="0.55"/><rect x="667.0" y="321.5" width="3.0" height="3.0" fill="#27bff2"/><text x="671.6" y="325.9" font-size="8.2" fill="#35306e">Ch1</text><rect x="687.9" y="321.5" width="3.0" height="3.0" fill="#e3245f"/><text x="692.5" y="325.9" font-size="8.2" fill="#35306e">Ch2</text><rect x="708.9" y="321.5" width="3.0" height="3.0" fill="#6fbf46"/><text x="713.5" y="325.9" font-size="8.2" fill="#35306e">Ch3</text><rect x="729.8" y="321.5" width="3.0" height="3.0" fill="#b451b2"/><text x="734.4" y="325.9" font-size="8.2" fill="#35306e">Ch4</text><rect x="750.7" y="321.5" width="3.0" height="3.0" fill="#f9c51b"/><text x="755.3" y="325.9" font-size="8.2" fill="#35306e">Ch5</text><rect x="771.6" y="321.5" width="3.0" height="3.0" fill="#1f1b5b"/><text x="776.2" y="325.9" font-size="8.2" fill="#35306e">Ch6</text><rect x="792.6" y="321.5" width="3.0" height="3.0" fill="#e65ad6"/><text x="797.2" y="325.9" font-size="8.2" fill="#35306e">Ch7</text><rect x="813.5" y="321.5" width="3.0" height="3.0" fill="#f18b1e"/><text x="818.1" y="325.9" font-size="8.2" fill="#35306e">Ch8</text><line x1="617.5" x2="892.5" y1="494.5" y2="494.5" stroke="#e9e8f3" stroke-width="0.8"/><text x="613.8" y="497.5" font-size="8.6" fill="#35306e" text-anchor="middle">0</text><line x1="617.5" x2="892.5" y1="479.5" y2="479.5" stroke="#e9e8f3" stroke-width="0.8"/><text x="613.8" y="482.5" font-size="8.6" fill="#35306e" text-anchor="middle">1</text><line x1="617.5" x2="892.5" y1="464.5" y2="464.5" stroke="#e9e8f3" stroke-width="0.8"/><text x="613.8" y="467.5" font-size="8.6" fill="#35306e" text-anchor="middle">2</text><line x1="617.5" x2="892.5" y1="449.5" y2="449.5" stroke="#e9e8f3" stroke-width="0.8"/><text x="613.8" y="452.5" font-size="8.6" fill="#35306e" text-anchor="middle">3</text><line x1="617.5" x2="892.5" y1="434.5" y2="434.5" stroke="#e9e8f3" stroke-width="0.8"/><text x="613.8" y="437.5" font-size="8.6" fill="#35306e" text-anchor="middle">4</text><line x1="706.2" x2="706.2" y1="446.3" y2="484.5" stroke="#8d8aad" stroke-width="0.55"/><line x1="704.0" x2="708.5" y1="446.3" y2="446.3" stroke="#8d8aad" stroke-width="0.55"/><line x1="704.0" x2="708.5" y1="484.5" y2="484.5" stroke="#8d8aad" stroke-width="0.55"/><rect x="700.5" y="462.5" width="11.5" height="15.8" fill="#27bff2" stroke="#000" stroke-opacity="0.13" stroke-width="0.5"/><line x1="700.5" x2="712.0" y1="468.3" y2="468.3" stroke="#000" stroke-opacity="0.28" stroke-width="0.5" stroke-dasharray="1.2 0.6"/><circle cx="706.0" cy="472.1" r="0.5" fill="#2a2550" fill-opacity="0.55"/><line x1="718.5" x2="718.5" y1="446.3" y2="488.3" stroke="#8d8aad" stroke-width="0.55"/><line x1="716.2" x2="720.8" y1="446.3" y2="446.3" stroke="#8d8aad" stroke-width="0.55"/><line x1="716.2" x2="720.8" y1="488.3" y2="488.3" stroke="#8d8aad" stroke-width="0.55"/><rect x="712.8" y="455.0" width="11.5" height="20.0" fill="#e3245f" stroke="#000" stroke-opacity="0.13" stroke-width="0.5"/><line x1="712.8" x2="724.3" y1="469.0" y2="469.0" stroke="#000" stroke-opacity="0.28" stroke-width="0.5" stroke-dasharray="1.2 0.6"/><circle cx="718.2" cy="461.0" r="0.5" fill="#2a2550" fill-opacity="0.55"/><line x1="730.8" x2="730.8" y1="450.8" y2="484.5" stroke="#8d8aad" stroke-width="0.55"/><line x1="728.5" x2="733.0" y1="450.8" y2="450.8" stroke="#8d8aad" stroke-width="0.55"/><line x1="728.5" x2="733.0" y1="484.5" y2="484.5" stroke="#8d8aad" stroke-width="0.55"/><rect x="725.0" y="455.8" width="11.5" height="14.5" fill="#6fbf46" stroke="#000" stroke-opacity="0.13" stroke-width="0.5"/><line x1="725.0" x2="736.5" y1="464.0" y2="464.0" stroke="#000" stroke-opacity="0.28" stroke-width="0.5" stroke-dasharray="1.2 0.6"/><circle cx="730.6" cy="466.4" r="0.5" fill="#2a2550" fill-opacity="0.55"/><line x1="743.1" x2="743.1" y1="461.3" y2="494.5" stroke="#8d8aad" stroke-width="0.55"/><line x1="740.9" x2="745.4" y1="461.3" y2="461.3" stroke="#8d8aad" stroke-width="0.55"/><line x1="740.9" x2="745.4" y1="494.5" y2="494.5" stroke="#8d8aad" stroke-width="0.55"/><rect x="737.5" y="478.8" width="11.3" height="11.5" fill="#b451b2" stroke="#000" stroke-opacity="0.13" stroke-width="0.5"/><line x1="737.5" x2="748.8" y1="488.3" y2="488.3" stroke="#000" stroke-opacity="0.28" stroke-width="0.5" stroke-dasharray="1.2 0.6"/><circle cx="743.2" cy="492.6" r="0.5" fill="#2a2550" fill-opacity="0.55"/><line x1="755.5" x2="755.5" y1="447.0" y2="492.5" stroke="#8d8aad" stroke-width="0.55"/><line x1="753.2" x2="757.8" y1="447.0" y2="447.0" stroke="#8d8aad" stroke-width="0.55"/><line x1="753.2" x2="757.8" y1="492.5" y2="492.5" stroke="#8d8aad" stroke-width="0.55"/><rect x="749.8" y="460.8" width="11.5" height="21.2" fill="#f9c51b" stroke="#000" stroke-opacity="0.13" stroke-width="0.5"/><line x1="749.8" x2="761.3" y1="476.3" y2="476.3" stroke="#000" stroke-opacity="0.28" stroke-width="0.5" stroke-dasharray="1.2 0.6"/><circle cx="755.5" cy="490.8" r="0.5" fill="#2a2550" fill-opacity="0.55"/><line x1="767.9" x2="767.9" y1="441.3" y2="494.5" stroke="#8d8aad" stroke-width="0.55"/><line x1="765.7" x2="770.1" y1="441.3" y2="441.3" stroke="#8d8aad" stroke-width="0.55"/><line x1="765.7" x2="770.1" y1="494.5" y2="494.5" stroke="#8d8aad" stroke-width="0.55"/><rect x="762.3" y="453.3" width="11.2" height="41.2" fill="#1f1b5b" stroke="#000" stroke-opacity="0.13" stroke-width="0.5"/><circle cx="767.6" cy="490.8" r="0.5" fill="#2a2550" fill-opacity="0.55"/><line x1="780.2" x2="780.2" y1="448.8" y2="489.5" stroke="#8d8aad" stroke-width="0.55"/><line x1="778.0" x2="782.5" y1="448.8" y2="448.8" stroke="#8d8aad" stroke-width="0.55"/><line x1="778.0" x2="782.5" y1="489.5" y2="489.5" stroke="#8d8aad" stroke-width="0.55"/><rect x="774.5" y="455.3" width="11.5" height="19.7" fill="#1c8ca4" stroke="#000" stroke-opacity="0.13" stroke-width="0.5"/><line x1="774.5" x2="786.0" y1="466.0" y2="466.0" stroke="#000" stroke-opacity="0.28" stroke-width="0.5" stroke-dasharray="1.2 0.6"/><circle cx="780.5" cy="472.2" r="0.5" fill="#2a2550" fill-opacity="0.55"/><line x1="792.5" x2="792.5" y1="443.8" y2="494.5" stroke="#8d8aad" stroke-width="0.55"/><line x1="790.2" x2="794.8" y1="443.8" y2="443.8" stroke="#8d8aad" stroke-width="0.55"/><line x1="790.2" x2="794.8" y1="494.5" y2="494.5" stroke="#8d8aad" stroke-width="0.55"/><rect x="786.8" y="455.0" width="11.5" height="24.0" fill="#a2163f" stroke="#000" stroke-opacity="0.13" stroke-width="0.5"/><line x1="786.8" x2="798.3" y1="468.0" y2="468.0" stroke="#000" stroke-opacity="0.28" stroke-width="0.5" stroke-dasharray="1.2 0.6"/><circle cx="792.3" cy="488.2" r="0.5" fill="#2a2550" fill-opacity="0.55"/><line x1="804.8" x2="804.8" y1="434.5" y2="494.5" stroke="#8d8aad" stroke-width="0.55"/><line x1="802.5" x2="807.0" y1="434.5" y2="434.5" stroke="#8d8aad" stroke-width="0.55"/><line x1="802.5" x2="807.0" y1="494.5" y2="494.5" stroke="#8d8aad" stroke-width="0.55"/><rect x="799.0" y="449.0" width="11.5" height="45.5" fill="#3d7f23" stroke="#000" stroke-opacity="0.13" stroke-width="0.5"/><line x1="799.0" x2="810.5" y1="472.0" y2="472.0" stroke="#000" stroke-opacity="0.28" stroke-width="0.5" stroke-dasharray="1.2 0.6"/><circle cx="805.1" cy="456.9" r="0.5" fill="#2a2550" fill-opacity="0.55"/><rect x="657.5" y="508.1" width="3.0" height="3.0" fill="#27bff2"/><text x="662.1" y="512.5" font-size="8.2" fill="#35306e">Ch1</text><rect x="678.7" y="508.1" width="3.0" height="3.0" fill="#e3245f"/><text x="683.3" y="512.5" font-size="8.2" fill="#35306e">Ch2</text><rect x="699.9" y="508.1" width="3.0" height="3.0" fill="#6fbf46"/><text x="704.5" y="512.5" font-size="8.2" fill="#35306e">Ch3</text><rect x="721.1" y="508.1" width="3.0" height="3.0" fill="#b451b2"/><text x="725.7" y="512.5" font-size="8.2" fill="#35306e">Ch4</text><rect x="742.3" y="508.1" width="3.0" height="3.0" fill="#f9c51b"/><text x="746.9" y="512.5" font-size="8.2" fill="#35306e">Ch5</text><rect x="763.5" y="508.1" width="3.0" height="3.0" fill="#1f1b5b"/><text x="768.1" y="512.5" font-size="8.2" fill="#35306e">Ch6</text><rect x="784.7" y="508.1" width="3.0" height="3.0" fill="#1c8ca4"/><text x="789.3" y="512.5" font-size="8.2" fill="#35306e">Ch7</text><rect x="805.9" y="508.1" width="3.0" height="3.0" fill="#a2163f"/><text x="810.5" y="512.5" font-size="8.2" fill="#35306e">Ch8</text><rect x="827.1" y="508.1" width="3.0" height="3.0" fill="#3d7f23"/><text x="831.7" y="512.5" font-size="8.2" fill="#35306e">Ch9</text><line x1="920.2" x2="1189.0" y1="409.1" y2="409.1" stroke="#e9e8f3" stroke-width="0.8"/><text x="915.3" y="412.1" font-size="8.6" fill="#35306e" text-anchor="middle">0</text><line x1="920.2" x2="1189.0" y1="393.6" y2="393.6" stroke="#e9e8f3" stroke-width="0.8"/><text x="915.3" y="396.6" font-size="8.6" fill="#35306e" text-anchor="middle">1</text><line x1="920.2" x2="1189.0" y1="378.1" y2="378.1" stroke="#e9e8f3" stroke-width="0.8"/><text x="915.3" y="381.1" font-size="8.6" fill="#35306e" text-anchor="middle">2</text><line x1="920.2" x2="1189.0" y1="362.7" y2="362.7" stroke="#e9e8f3" stroke-width="0.8"/><text x="915.3" y="365.7" font-size="8.6" fill="#35306e" text-anchor="middle">3</text><line x1="920.2" x2="1189.0" y1="347.2" y2="347.2" stroke="#e9e8f3" stroke-width="0.8"/><text x="915.3" y="350.2" font-size="8.6" fill="#35306e" text-anchor="middle">4</text><line x1="993.5" x2="993.5" y1="346.4" y2="384.5" stroke="#8d8aad" stroke-width="0.55"/><line x1="991.0" x2="995.9" y1="346.4" y2="346.4" stroke="#8d8aad" stroke-width="0.55"/><line x1="991.0" x2="995.9" y1="384.5" y2="384.5" stroke="#8d8aad" stroke-width="0.55"/><rect x="987.3" y="357.5" width="12.3" height="16.0" fill="#6fbf47" stroke="#000" stroke-opacity="0.13" stroke-width="0.5"/><line x1="987.3" x2="999.6" y1="362.9" y2="362.9" stroke="#000" stroke-opacity="0.28" stroke-width="0.5" stroke-dasharray="1.2 0.6"/><circle cx="993.2" cy="372.2" r="0.5" fill="#2a2550" fill-opacity="0.55"/><circle cx="993.1" cy="359.7" r="0.5" fill="#2a2550" fill-opacity="0.55"/><circle cx="993.3" cy="364.1" r="0.5" fill="#2a2550" fill-opacity="0.55"/><circle cx="993.5" cy="382.3" r="0.5" fill="#2a2550" fill-opacity="0.55"/><circle cx="993.4" cy="383.1" r="0.5" fill="#2a2550" fill-opacity="0.55"/><circle cx="993.1" cy="381.8" r="0.5" fill="#2a2550" fill-opacity="0.55"/><circle cx="993.7" cy="368.3" r="0.5" fill="#2a2550" fill-opacity="0.55"/><line x1="1007.3" x2="1007.3" y1="373.5" y2="409.0" stroke="#8d8aad" stroke-width="0.55"/><line x1="1004.7" x2="1009.9" y1="373.5" y2="373.5" stroke="#8d8aad" stroke-width="0.55"/><line x1="1004.7" x2="1009.9" y1="409.0" y2="409.0" stroke="#8d8aad" stroke-width="0.55"/><rect x="1000.9" y="383.3" width="12.8" height="22.6" fill="#e8255f" stroke="#000" stroke-opacity="0.13" stroke-width="0.5"/><line x1="1000.9" x2="1013.7" y1="395.6" y2="395.6" stroke="#000" stroke-opacity="0.28" stroke-width="0.5" stroke-dasharray="1.2 0.6"/><circle cx="1007.1" cy="404.6" r="0.5" fill="#2a2550" fill-opacity="0.55"/><circle cx="1007.7" cy="386.7" r="0.5" fill="#2a2550" fill-opacity="0.55"/><circle cx="1007.2" cy="388.5" r="0.5" fill="#2a2550" fill-opacity="0.55"/><circle cx="1006.9" cy="374.3" r="0.5" fill="#2a2550" fill-opacity="0.55"/><circle cx="1007.1" cy="378.5" r="0.5" fill="#2a2550" fill-opacity="0.55"/><circle cx="1007.0" cy="403.9" r="0.5" fill="#2a2550" fill-opacity="0.55"/><circle cx="1007.6" cy="398.0" r="0.5" fill="#2a2550" fill-opacity="0.55"/><line x1="1020.7" x2="1020.7" y1="346.4" y2="409.0" stroke="#8d8aad" stroke-width="0.55"/><line x1="1018.2" x2="1023.2" y1="346.4" y2="346.4" stroke="#8d8aad" stroke-width="0.55"/><line x1="1018.2" x2="1023.2" y1="409.0" y2="409.0" stroke="#8d8aad" stroke-width="0.55"/><rect x="1014.4" y="355.0" width="12.5" height="25.1" fill="#c9e7b6" stroke="#000" stroke-opacity="0.13" stroke-width="0.5"/><line x1="1014.4" x2="1026.9" y1="362.4" y2="362.4" stroke="#000" stroke-opacity="0.28" stroke-width="0.5" stroke-dasharray="1.2 0.6"/><circle cx="1020.7" cy="397.7" r="0.5" fill="#2a2550" fill-opacity="0.55"/><circle cx="1020.5" cy="369.0" r="0.5" fill="#2a2550" fill-opacity="0.55"/><circle cx="1020.3" cy="374.7" r="0.5" fill="#2a2550" fill-opacity="0.55"/><circle cx="1020.4" cy="405.3" r="0.5" fill="#2a2550" fill-opacity="0.55"/><circle cx="1020.6" cy="366.4" r="0.5" fill="#2a2550" fill-opacity="0.55"/><circle cx="1020.7" cy="389.3" r="0.5" fill="#2a2550" fill-opacity="0.55"/><circle cx="1020.5" cy="380.6" r="0.5" fill="#2a2550" fill-opacity="0.55"/><line x1="1033.7" x2="1033.7" y1="362.0" y2="409.0" stroke="#8d8aad" stroke-width="0.55"/><line x1="1031.2" x2="1036.2" y1="362.0" y2="362.0" stroke="#8d8aad" stroke-width="0.55"/><line x1="1031.2" x2="1036.2" y1="409.0" y2="409.0" stroke="#8d8aad" stroke-width="0.55"/><rect x="1027.4" y="370.3" width="12.6" height="33.1" fill="#f9cfdb" stroke="#000" stroke-opacity="0.13" stroke-width="0.5"/><line x1="1027.4" x2="1040.0" y1="389.4" y2="389.4" stroke="#000" stroke-opacity="0.28" stroke-width="0.5" stroke-dasharray="1.2 0.6"/><circle cx="1033.9" cy="371.7" r="0.5" fill="#2a2550" fill-opacity="0.55"/><circle cx="1033.8" cy="397.5" r="0.5" fill="#2a2550" fill-opacity="0.55"/><circle cx="1034.0" cy="384.3" r="0.5" fill="#2a2550" fill-opacity="0.55"/><circle cx="1033.5" cy="374.7" r="0.5" fill="#2a2550" fill-opacity="0.55"/><circle cx="1033.4" cy="362.9" r="0.5" fill="#2a2550" fill-opacity="0.55"/><circle cx="1033.9" cy="389.3" r="0.5" fill="#2a2550" fill-opacity="0.55"/><circle cx="1033.7" cy="401.9" r="0.5" fill="#2a2550" fill-opacity="0.55"/><line x1="1047.2" x2="1047.2" y1="346.4" y2="380.0" stroke="#8d8aad" stroke-width="0.55"/><line x1="1044.7" x2="1049.7" y1="346.4" y2="346.4" stroke="#8d8aad" stroke-width="0.55"/><line x1="1044.7" x2="1049.7" y1="380.0" y2="380.0" stroke="#8d8aad" stroke-width="0.55"/><rect x="1040.9" y="356.2" width="12.6" height="13.6" fill="#3a7a1f" stroke="#000" stroke-opacity="0.13" stroke-width="0.5"/><line x1="1040.9" x2="1053.5" y1="362.9" y2="362.9" stroke="#000" stroke-opacity="0.28" stroke-width="0.5" stroke-dasharray="1.2 0.6"/><circle cx="1047.3" cy="378.7" r="0.5" fill="#2a2550" fill-opacity="0.55"/><circle cx="1047.3" cy="354.3" r="0.5" fill="#2a2550" fill-opacity="0.55"/><circle cx="1047.1" cy="350.6" r="0.5" fill="#2a2550" fill-opacity="0.55"/><circle cx="1047.3" cy="356.6" r="0.5" fill="#2a2550" fill-opacity="0.55"/><circle cx="1047.2" cy="360.5" r="0.5" fill="#2a2550" fill-opacity="0.55"/><circle cx="1047.6" cy="351.8" r="0.5" fill="#2a2550" fill-opacity="0.55"/><circle cx="1047.3" cy="364.1" r="0.5" fill="#2a2550" fill-opacity="0.55"/><line x1="1060.8" x2="1060.8" y1="362.4" y2="409.0" stroke="#8d8aad" stroke-width="0.55"/><line x1="1058.2" x2="1063.2" y1="362.4" y2="362.4" stroke="#8d8aad" stroke-width="0.55"/><line x1="1058.2" x2="1063.2" y1="409.0" y2="409.0" stroke="#8d8aad" stroke-width="0.55"/><rect x="1054.5" y="384.0" width="12.5" height="17.7" fill="#8b1538" stroke="#000" stroke-opacity="0.13" stroke-width="0.5"/><line x1="1054.5" x2="1067.0" y1="393.0" y2="393.0" stroke="#000" stroke-opacity="0.28" stroke-width="0.5" stroke-dasharray="1.2 0.6"/><circle cx="1060.9" cy="406.2" r="0.5" fill="#2a2550" fill-opacity="0.55"/><circle cx="1061.1" cy="378.8" r="0.5" fill="#2a2550" fill-opacity="0.55"/><circle cx="1060.6" cy="370.7" r="0.5" fill="#2a2550" fill-opacity="0.55"/><circle cx="1060.9" cy="391.0" r="0.5" fill="#2a2550" fill-opacity="0.55"/><circle cx="1060.7" cy="407.9" r="0.5" fill="#2a2550" fill-opacity="0.55"/><circle cx="1060.4" cy="401.2" r="0.5" fill="#2a2550" fill-opacity="0.55"/><circle cx="1061.0" cy="406.3" r="0.5" fill="#2a2550" fill-opacity="0.55"/><line x1="1074.2" x2="1074.2" y1="346.4" y2="393.1" stroke="#8d8aad" stroke-width="0.55"/><line x1="1071.7" x2="1076.6" y1="346.4" y2="346.4" stroke="#8d8aad" stroke-width="0.55"/><line x1="1071.7" x2="1076.6" y1="393.1" y2="393.1" stroke="#8d8aad" stroke-width="0.55"/><rect x="1068.0" y="364.1" width="12.3" height="12.3" fill="#c9e7b6" stroke="#000" stroke-opacity="0.13" stroke-width="0.5"/><line x1="1068.0" x2="1080.3" y1="371.0" y2="371.0" stroke="#000" stroke-opacity="0.28" stroke-width="0.5" stroke-dasharray="1.2 0.6"/><circle cx="1073.9" cy="387.1" r="0.5" fill="#2a2550" fill-opacity="0.55"/><circle cx="1074.4" cy="374.8" r="0.5" fill="#2a2550" fill-opacity="0.55"/><circle cx="1074.1" cy="389.3" r="0.5" fill="#2a2550" fill-opacity="0.55"/><circle cx="1074.5" cy="367.4" r="0.5" fill="#2a2550" fill-opacity="0.55"/><circle cx="1074.4" cy="354.8" r="0.5" fill="#2a2550" fill-opacity="0.55"/><circle cx="1074.1" cy="380.1" r="0.5" fill="#2a2550" fill-opacity="0.55"/><circle cx="1074.5" cy="376.3" r="0.5" fill="#2a2550" fill-opacity="0.55"/><line x1="1087.5" x2="1087.5" y1="360.4" y2="399.8" stroke="#8d8aad" stroke-width="0.55"/><line x1="1085.0" x2="1090.0" y1="360.4" y2="360.4" stroke="#8d8aad" stroke-width="0.55"/><line x1="1085.0" x2="1090.0" y1="399.8" y2="399.8" stroke="#8d8aad" stroke-width="0.55"/><rect x="1081.3" y="377.6" width="12.5" height="14.8" fill="#f5abc2" stroke="#000" stroke-opacity="0.13" stroke-width="0.5"/><line x1="1081.3" x2="1093.8" y1="383.3" y2="383.3" stroke="#000" stroke-opacity="0.28" stroke-width="0.5" stroke-dasharray="1.2 0.6"/><circle cx="1087.3" cy="362.1" r="0.5" fill="#2a2550" fill-opacity="0.55"/><circle cx="1087.3" cy="392.9" r="0.5" fill="#2a2550" fill-opacity="0.55"/><circle cx="1087.5" cy="390.6" r="0.5" fill="#2a2550" fill-opacity="0.55"/><circle cx="1087.4" cy="376.6" r="0.5" fill="#2a2550" fill-opacity="0.55"/><circle cx="1087.5" cy="399.6" r="0.5" fill="#2a2550" fill-opacity="0.55"/><circle cx="1087.6" cy="385.3" r="0.5" fill="#2a2550" fill-opacity="0.55"/><circle cx="1087.7" cy="362.2" r="0.5" fill="#2a2550" fill-opacity="0.55"/><line x1="1101.0" x2="1101.0" y1="346.4" y2="388.2" stroke="#8d8aad" stroke-width="0.55"/><line x1="1098.5" x2="1103.5" y1="346.4" y2="346.4" stroke="#8d8aad" stroke-width="0.55"/><line x1="1098.5" x2="1103.5" y1="388.2" y2="388.2" stroke="#8d8aad" stroke-width="0.55"/><rect x="1094.8" y="358.7" width="12.5" height="20.9" fill="#5cad38" stroke="#000" stroke-opacity="0.13" stroke-width="0.5"/><line x1="1094.8" x2="1107.3" y1="368.0" y2="368.0" stroke="#000" stroke-opacity="0.28" stroke-width="0.5" stroke-dasharray="1.2 0.6"/><circle cx="1101.1" cy="366.7" r="0.5" fill="#2a2550" fill-opacity="0.55"/><circle cx="1100.7" cy="359.9" r="0.5" fill="#2a2550" fill-opacity="0.55"/><circle cx="1101.3" cy="350.6" r="0.5" fill="#2a2550" fill-opacity="0.55"/><circle cx="1101.3" cy="351.6" r="0.5" fill="#2a2550" fill-opacity="0.55"/><circle cx="1101.0" cy="371.8" r="0.5" fill="#2a2550" fill-opacity="0.55"/><circle cx="1101.2" cy="383.9" r="0.5" fill="#2a2550" fill-opacity="0.55"/><circle cx="1100.7" cy="385.6" r="0.5" fill="#2a2550" fill-opacity="0.55"/><line x1="1114.5" x2="1114.5" y1="355.0" y2="405.4" stroke="#8d8aad" stroke-width="0.55"/><line x1="1112.0" x2="1117.0" y1="355.0" y2="355.0" stroke="#8d8aad" stroke-width="0.55"/><line x1="1112.0" x2="1117.0" y1="405.4" y2="405.4" stroke="#8d8aad" stroke-width="0.55"/><rect x="1108.3" y="377.1" width="12.5" height="19.2" fill="#d4235a" stroke="#000" stroke-opacity="0.13" stroke-width="0.5"/><line x1="1108.3" x2="1120.8" y1="386.0" y2="386.0" stroke="#000" stroke-opacity="0.28" stroke-width="0.5" stroke-dasharray="1.2 0.6"/><circle cx="1114.3" cy="394.9" r="0.5" fill="#2a2550" fill-opacity="0.55"/><circle cx="1114.2" cy="388.3" r="0.5" fill="#2a2550" fill-opacity="0.55"/><circle cx="1114.3" cy="405.4" r="0.5" fill="#2a2550" fill-opacity="0.55"/><circle cx="1114.4" cy="400.3" r="0.5" fill="#2a2550" fill-opacity="0.55"/><circle cx="1114.8" cy="404.1" r="0.5" fill="#2a2550" fill-opacity="0.55"/><circle cx="1114.3" cy="374.5" r="0.5" fill="#2a2550" fill-opacity="0.55"/><circle cx="1114.4" cy="392.7" r="0.5" fill="#2a2550" fill-opacity="0.55"/><rect x="938.9" y="423.2" width="2.8" height="2.8" fill="#6fbf47"/><text x="942.9" y="427.5" font-size="8.0" fill="#3f3a75">e1 F</text><rect x="961.8" y="423.2" width="2.8" height="2.8" fill="#e8255f"/><text x="965.8" y="427.5" font-size="8.0" fill="#3f3a75">e1 B</text><rect x="984.6" y="423.2" width="2.8" height="2.8" fill="#c9e7b6"/><text x="988.6" y="427.5" font-size="8.0" fill="#3f3a75">e2 F</text><rect x="1007.5" y="423.2" width="2.8" height="2.8" fill="#f9cfdb"/><text x="1011.5" y="427.5" font-size="8.0" fill="#3f3a75">e2 B</text><rect x="1030.3" y="423.2" width="2.8" height="2.8" fill="#3a7a1f"/><text x="1034.3" y="427.5" font-size="8.0" fill="#3f3a75">e3 F</text><rect x="1053.2" y="423.2" width="2.8" height="2.8" fill="#8b1538"/><text x="1057.2" y="427.5" font-size="8.0" fill="#3f3a75">e3 B</text><rect x="1076.0" y="423.2" width="2.8" height="2.8" fill="#c9e7b6"/><text x="1080.0" y="427.5" font-size="8.0" fill="#3f3a75">e4 F</text><rect x="1098.8" y="423.2" width="2.8" height="2.8" fill="#f5abc2"/><text x="1102.8" y="427.5" font-size="8.0" fill="#3f3a75">e4 B</text><rect x="1121.7" y="423.2" width="2.8" height="2.8" fill="#5cad38"/><text x="1125.7" y="427.5" font-size="8.0" fill="#3f3a75">e5 F</text><rect x="1144.5" y="423.2" width="2.8" height="2.8" fill="#d4235a"/><text x="1148.5" y="427.5" font-size="8.0" fill="#3f3a75">e5 B</text><line x1="940.6" x2="1143.4" y1="211.5" y2="211.5" stroke="#e9e8f3" stroke-width="0.8"/><text x="931.5" y="214.3" font-size="7.9" fill="#35306e" text-anchor="end">0%</text><line x1="940.6" x2="1143.4" y1="182.8" y2="182.8" stroke="#e9e8f3" stroke-width="0.8"/><text x="931.5" y="185.6" font-size="7.9" fill="#35306e" text-anchor="end">50%</text><line x1="940.6" x2="1143.4" y1="154.0" y2="154.0" stroke="#e9e8f3" stroke-width="0.8"/><text x="931.5" y="156.8" font-size="7.9" fill="#35306e" text-anchor="end">100%</text><rect x="948.5" y="199.4" width="7" height="12.1" fill="#d98ccd"/><rect x="948.5" y="184.5" width="7" height="15.0" fill="#e9b9e1"/><text transform="translate(954.9,225.5) rotate(-90)" font-size="8" fill="#35306e" text-anchor="middle">Ch1</text><rect x="970.9" y="200.0" width="7" height="11.5" fill="#d98ccd"/><text transform="translate(977.3,225.5) rotate(-90)" font-size="8" fill="#35306e" text-anchor="middle">Ch2</text><rect x="993.5" y="194.8" width="7" height="16.7" fill="#e9b9e1"/><text transform="translate(999.9,225.5) rotate(-90)" font-size="8" fill="#35306e" text-anchor="middle">Ch3</text><rect x="1016.1" y="206.6" width="7" height="4.9" fill="#c24da6"/><rect x="1016.1" y="175.8" width="7" height="30.8" fill="#d98ccd"/><rect x="1016.1" y="162.6" width="7" height="13.2" fill="#e9b9e1"/><text transform="translate(1022.5,225.5) rotate(-90)" font-size="8" fill="#35306e" text-anchor="middle">Ch4</text><rect x="1038.5" y="204.0" width="7" height="7.5" fill="#d98ccd"/><rect x="1038.5" y="196.6" width="7" height="7.5" fill="#e9b9e1"/><text transform="translate(1044.9,225.5) rotate(-90)" font-size="8" fill="#35306e" text-anchor="middle">Ch5</text><rect x="1061.1" y="165.5" width="7" height="46.0" fill="#e9b9e1"/><text transform="translate(1067.5,225.5) rotate(-90)" font-size="8" fill="#35306e" text-anchor="middle">Ch6</text><rect x="1083.7" y="203.4" width="7" height="8.1" fill="#e9b9e1"/><text transform="translate(1090.1,225.5) rotate(-90)" font-size="8" fill="#35306e" text-anchor="middle">Ch7</text><rect x="1106.1" y="205.2" width="7" height="6.3" fill="#e9b9e1"/><text transform="translate(1112.5,225.5) rotate(-90)" font-size="8" fill="#35306e" text-anchor="middle">Ch8</text><text transform="translate(1135.1,225.5) rotate(-90)" font-size="8" fill="#35306e" text-anchor="middle">Ch9</text><rect x="1151.6" y="148.1" width="4.4" height="4.4" fill="#e9b9e1"/><text x="1159" y="153.1" font-size="7.9" fill="#35306e">In 1</text><text x="1159" y="164.7" font-size="7.9" fill="#35306e">case</text><rect x="1151.6" y="173.2" width="4.4" height="4.4" fill="#d98ccd"/><text x="1159" y="178.2" font-size="7.9" fill="#35306e">In 2</text><text x="1159" y="188.8" font-size="7.9" fill="#35306e">cases</text><rect x="1151.6" y="197.8" width="4.4" height="4.4" fill="#c24da6"/><text x="1159" y="202.8" font-size="7.9" fill="#35306e">In 3</text><text x="1159" y="213.8" font-size="7.9" fill="#35306e">cases</text></g></svg>
<div class="band"></div>
<div class="foot"></div>
<div class="abs" style="left:6.3px;top:523.5px;font-size:10.31px;line-height:11px;font-weight:bold;color:#241f5f" id="rel">Related Presentations:</div>
<div class="abs rp" style="left:6.8px;top:542.3px">1.</div><div class="abs rp" id="rp1" style="left:17px;top:542.3px">#33472 Development and piloting of an ICF Core Set based assessment of functioning tool for young people diagnosed with autism or other neurodevelopmental conditions</div>
<div class="abs rp" style="left:606px;top:529.3px">2.</div><div class="abs rp" id="rp2" style="left:620px;top:529.3px">#34533 Coproducing holistic proxy and self report assessment of functioning tools based on the ICF Core Sets for ASD</div>
<div class="abs rp" style="left:606px;top:541.8px">3.</div><div class="abs rp" id="rp3" style="left:620px;top:541.8px">#33474 Formalising an Assessment of Functioning Process for Individuals Undergoing an Autism Diagnostic Evaluation and/or Service Planning in Australia</div>
<div class="abs" id="fmi" style="left:12.2px;top:564px;font-size:9.92px;line-height:11px;font-weight:bold;color:#fff">For more information:</div>
<div class="abs" id="em" style="left:12.2px;top:575.2px;font-size:9.92px;line-height:11px;color:#fff">Emily D’Arcy |&nbsp;&nbsp; Email: emily.darcy@postgrad.curtin.edu.au</div>
<svg class="abs" style="left:0;top:0" width="1200" height="630" viewBox="0 0 1200 630" font-family="Liberation Sans, sans-serif"><rect x="1039" y="565.3" width="16.2" height="15.7" fill="#c45ab6"/><rect x="1061.2" y="565.3" width="16.2" height="15.7" fill="#c45ab6"/><rect x="1083.3" y="565.3" width="15.8" height="15.7" fill="#c45ab6"/><path d="M1047.4 581 V574.8 H1045.6 V572.9 H1047.4 V571.2 C1047.4 569.2 1048.6 568.3 1050.4 568.3 C1051.2 568.3 1051.9 568.4 1052.3 568.45 V570.4 H1051.2 C1050.3 570.4 1050 570.8 1050 571.5 V572.9 H1052.2 L1051.9 574.8 H1050 V581 Z" fill="#fff"/><g transform="translate(1062.7,567.2) scale(0.52)"><path d="M23.6 4.6c-.9.4-1.8.7-2.8.8 1-.6 1.8-1.6 2.1-2.7-.9.6-2 1-3.1 1.2C18.900 3 17.700 2.400 16.300 2.400c-2.700 0-4.800 2.200-4.800 4.800 0 .4 0 .8.100 1.100C7.600 8.100 4.100 6.200 1.700 3.300c-.4.700-.7 1.600-.7 2.500 0 1.700.9 3.200 2.200 4-.8 0-1.600-.2-2.200-.6v.1c0 2.400 1.700 4.300 3.900 4.800-.4.100-.8.200-1.300.2-.3 0-.6 0-.9-.1.600 1.900 2.400 3.300 4.500 3.400-1.700 1.300-3.800 2.100-6 2.100-.4 0-.8 0-1.200-.1 2.200 1.400 4.700 2.200 7.500 2.200 9 0 13.900-7.400 13.900-13.900v-.6c1-.7 1.800-1.600 2.400-2.600z" fill="#fff"/></g><rect x="1085.6" y="569" width="11.3" height="7.8" rx="1.4" fill="#fff"/><path d="M1089.8 571.2 L1092.6 572.9 L1089.8 574.6 Z" fill="#c45ab6"/><text x="1108" y="572.2" font-size="8.35" fill="#d2cde6">autismcrc.com.au</text><text x="1108" y="581" font-size="8.35" fill="#d2cde6">@autismcrc</text><g opacity="0.82"><g transform="translate(28.5,611.0) rotate(-20)" fill="#b273c4" stroke="#b273c4" stroke-linecap="round"><ellipse cx="0" cy="0.8" rx="3.4" ry="3.2" stroke="none"/><line x1="-1.84" y1="-0.74" x2="-4.60" y2="-3.06" stroke-width="1.3"/><line x1="-0.90" y1="-1.43" x2="-2.62" y2="-5.69" stroke-width="1.3"/><line x1="0.21" y1="-1.59" x2="0.61" y2="-6.17" stroke-width="1.3"/><line x1="1.20" y1="-1.28" x2="3.20" y2="-4.74" stroke-width="1.3"/><line x1="2.26" y1="-0.02" x2="4.51" y2="-0.84" stroke-width="1.3"/><ellipse cx="0" cy="1" rx="1.7" ry="1.5" fill="#fff" stroke="none" opacity="0.55"/></g><g transform="translate(39.3,612.0) rotate(50)" fill="#7fc555" stroke="#7fc555" stroke-linecap="round"><ellipse cx="0" cy="0.8" rx="3.4" ry="3.2" stroke="none"/><line x1="-1.84" y1="-0.74" x2="-4.60" y2="-3.06" stroke-width="1.3"/><line x1="-0.90" y1="-1.43" x2="-2.62" y2="-5.69" stroke-width="1.3"/><line x1="0.21" y1="-1.59" x2="0.61" y2="-6.17" stroke-width="1.3"/><line x1="1.20" y1="-1.28" x2="3.20" y2="-4.74" stroke-width="1.3"/><line x1="2.26" y1="-0.02" x2="4.51" y2="-0.84" stroke-width="1.3"/><ellipse cx="0" cy="1" rx="1.7" ry="1.5" fill="#fff" stroke="none" opacity="0.55"/></g><g transform="translate(21.5,618.7) rotate(-80)" fill="#ef3f77" stroke="#ef3f77" stroke-linecap="round"><ellipse cx="0" cy="0.8" rx="3.4" ry="3.2" stroke="none"/><line x1="-1.84" y1="-0.74" x2="-4.60" y2="-3.06" stroke-width="1.3"/><line x1="-0.90" y1="-1.43" x2="-2.62" y2="-5.69" stroke-width="1.3"/><line x1="0.21" y1="-1.59" x2="0.61" y2="-6.17" stroke-width="1.3"/><line x1="1.20" y1="-1.28" x2="3.20" y2="-4.74" stroke-width="1.3"/><line x1="2.26" y1="-0.02" x2="4.51" y2="-0.84" stroke-width="1.3"/><ellipse cx="0" cy="1" rx="1.7" ry="1.5" fill="#fff" stroke="none" opacity="0.55"/></g><g transform="translate(42.7,622.2) rotate(110)" fill="#3fc9f5" stroke="#3fc9f5" stroke-linecap="round"><ellipse cx="0" cy="0.8" rx="3.4" ry="3.2" stroke="none"/><line x1="-1.84" y1="-0.74" x2="-4.60" y2="-3.06" stroke-width="1.3"/><line x1="-0.90" y1="-1.43" x2="-2.62" y2="-5.69" stroke-width="1.3"/><line x1="0.21" y1="-1.59" x2="0.61" y2="-6.17" stroke-width="1.3"/><line x1="1.20" y1="-1.28" x2="3.20" y2="-4.74" stroke-width="1.3"/><line x1="2.26" y1="-0.02" x2="4.51" y2="-0.84" stroke-width="1.3"/><ellipse cx="0" cy="1" rx="1.7" ry="1.5" fill="#fff" stroke="none" opacity="0.55"/></g><g transform="translate(25.0,628.5) rotate(-30)" fill="#f9ca36" stroke="#f9ca36" stroke-linecap="round"><ellipse cx="0" cy="0.8" rx="3.4" ry="3.2" stroke="none"/><line x1="-1.84" y1="-0.74" x2="-4.60" y2="-3.06" stroke-width="1.3"/><line x1="-0.90" y1="-1.43" x2="-2.62" y2="-5.69" stroke-width="1.3"/><line x1="0.21" y1="-1.59" x2="0.61" y2="-6.17" stroke-width="1.3"/><line x1="1.20" y1="-1.28" x2="3.20" y2="-4.74" stroke-width="1.3"/><line x1="2.26" y1="-0.02" x2="4.51" y2="-0.84" stroke-width="1.3"/><ellipse cx="0" cy="1" rx="1.7" ry="1.5" fill="#fff" stroke="none" opacity="0.55"/></g><g transform="translate(35.3,631.5) rotate(0)" fill="#3a3480" stroke="#3a3480" stroke-linecap="round"><ellipse cx="0" cy="0.8" rx="2.5" ry="2.4" stroke="none"/><line x1="-1.38" y1="-0.36" x2="-3.45" y2="-2.09" stroke-width="1.3"/><line x1="-0.67" y1="-0.87" x2="-1.97" y2="-4.07" stroke-width="1.3"/><line x1="0.16" y1="-0.99" x2="0.46" y2="-4.43" stroke-width="1.3"/><line x1="0.90" y1="-0.76" x2="2.40" y2="-3.36" stroke-width="1.3"/><line x1="1.69" y1="0.18" x2="3.38" y2="-0.43" stroke-width="1.3"/><ellipse cx="0" cy="1" rx="1.3" ry="1.1" fill="#fff" stroke="none" opacity="0.55"/></g><g transform="translate(54.7,631.5) rotate(0)" fill="#3a3480" stroke="#3a3480" stroke-linecap="round"><ellipse cx="0" cy="0.8" rx="2.5" ry="2.4" stroke="none"/><line x1="-1.38" y1="-0.36" x2="-3.45" y2="-2.09" stroke-width="1.3"/><line x1="-0.67" y1="-0.87" x2="-1.97" y2="-4.07" stroke-width="1.3"/><line x1="0.16" y1="-0.99" x2="0.46" y2="-4.43" stroke-width="1.3"/><line x1="0.90" y1="-0.76" x2="2.40" y2="-3.36" stroke-width="1.3"/><line x1="1.69" y1="0.18" x2="3.38" y2="-0.43" stroke-width="1.3"/><ellipse cx="0" cy="1" rx="1.3" ry="1.1" fill="#fff" stroke="none" opacity="0.55"/></g></g><text x="66.4" y="634.2" font-size="13.6" fill="#2c2770" textLength="71" lengthAdjust="spacingAndGlyphs">AutismCRC</text><rect x="157.1" y="608.7" width="29.7" height="22" fill="#c9992b"/><rect x="186.7" y="608.7" width="147.8" height="22" fill="#0d0d0d"/><path d="M162.7 613.5 h17.3 v17 h-17.3 z" fill="#f1e2b8"/><path d="M162.7 616 h17.3 M162.7 618.6 h17.3 M162.7 621.2 h17.3 M162.7 623.8 h17.3 M162.7 626.4 h17.3 M162.7 629 h17.3" stroke="#c9992b" stroke-width="0.7"/><circle cx="171.4" cy="618.7" r="4.6" fill="#c9992b"/><circle cx="171.4" cy="618.7" r="3.3" fill="#fff"/><path d="M168.8 622.5 h5.2 v8 h-5.2 z" fill="#c9992b"/><path d="M170.200 623 h2.400 v7 h-2.400 z" fill="#f1e2b8"/><text x="194" y="628.6" font-size="16.6" fill="#fff" textLength="126.2" lengthAdjust="spacingAndGlyphs">Curtin University</text><text x="352" y="610.5" font-size="9.9" font-weight="bold" fill="#3db5e6" stroke="#3db5e6" stroke-width="0.35" textLength="59.4" lengthAdjust="spacingAndGlyphs">TELETHON</text><g font-size="25" font-weight="bold" stroke-width="1.3" stroke-linejoin="round"><text x="351.5" y="631.6" fill="#ea4f9b" stroke="#ea4f9b">K</text><text x="370.6" y="631.6" fill="#36b6e8" stroke="#36b6e8">I</text><text x="378.2" y="631.6" fill="#b04fb0" stroke="#b04fb0" textLength="17" lengthAdjust="spacingAndGlyphs">D</text><text x="395.6" y="631.6" fill="#f4902a" stroke="#f4902a" textLength="15.5" lengthAdjust="spacingAndGlyphs">S</text></g><rect x="429.1" y="597" width="143.4" height="23.4" fill="#111"/><rect x="431.6" y="599.2" width="19.6" height="19" fill="none" stroke="#fff" stroke-width="0.8"/><path d="M435.5 601.8 h11.8 v8.5 c0 3.5 -3 5.5 -5.9 6.5 c-2.9 -1 -5.9 -3 -5.9 -6.500 z" fill="#d8d8d8"/><circle cx="441.4" cy="606.5" r="2.6" fill="#111"/><circle cx="441.400" cy="606.2" r="1.5" fill="#fff"/><path d="M437.8 610.5 h7.2 M438.500 612.500 h5.800" stroke="#111" stroke-width="0.8"/><line x1="453.600" x2="453.600" y1="598" y2="619.500" stroke="#fff" stroke-width="0.700"/><text x="459.4" y="613.5" font-size="13.8" fill="#fff" textLength="104.2" lengthAdjust="spacingAndGlyphs">Curtin University</text><path d="M454 630 V624.600 Q454 621.600 457 621.600 H572.500 V630 Z" fill="#9c41a6"/><text x="460" y="631.800" font-size="8.300" fill="#fff" textLength="76" lengthAdjust="spacingAndGlyphs">AUTISM RESEARCH</text><g transform="translate(-1.5,0)" stroke="#a5263f" stroke-width="1.5" fill="none" stroke-linecap="butt"><path d="M602.5 605.4 V625.5 M617 605.4 L603 616.500 M607.500 613 L618 625.500"/><path d="M631.500 605.400 V625.500"/><path d="M645 625.500 V605.400 L660.500 625.500 V605.400"/><path d="M672.700 606.100 V624.800 H677 C682.500 624.800 685.300 621 685.300 615.400 C685.300 609.800 682.500 606.100 677 606.100 Z"/></g><g><path d="M984.4 606.8 l0.6 1.3 1.400 0.100 -1.100 0.900 0.400 1.400 -1.300 -0.800 -1.300 0.800 0.400 -1.400 -1.100 -0.900 1.400 -0.100z" fill="#333"/><ellipse cx="978.8" cy="615.2" rx="1.700" ry="4.200" transform="rotate(24 978.8 615.2)" fill="#2a2a2a"/><circle cx="981" cy="610.6" r="0.900" fill="#2a2a2a"/><ellipse cx="990.300" cy="614.400" rx="1.800" ry="3.600" transform="rotate(-30 990.300 614.400)" fill="#2a2a2a"/><path d="M988.600 609.500 q-0.300 2 0.800 3.200" stroke="#2a2a2a" stroke-width="0.800" fill="none"/><rect x="982.200" y="612" width="4.600" height="7.800" rx="0.800" fill="#8a8a8a"/><path d="M982.200 614.600 h4.600 M982.200 617.200 h4.600 M984.500 612 v7.800" stroke="#e8e8e8" stroke-width="0.500"/><path d="M970.500 620 q3 -5 8 -2 l4 3 h4 l4 -3 q5 -3 8 2 q-2 5 -7 5.500 l-3 2 h-8 l-3 -2 q-5 -0.500 -7 -5.500z" fill="#777" opacity="0.420"/><path d="M973 618.500 l3 1 M975 622.500 l3 0.500 M993 618.500 l3 -1 M992 622.500 l3 -0.500 M981 625.500 h7" stroke="#555" stroke-width="0.600" opacity="0.600"/></g><text x="1002.300" y="617.400" font-family="Liberation Serif, serif" font-weight="bold" font-size="6" fill="#222" textLength="54.700" lengthAdjust="spacingAndGlyphs">Australian Government</text><line x1="1002.300" x2="1074.800" y1="620.400" y2="620.400" stroke="#444" stroke-width="0.500"/><text x="1002.300" y="626.900" font-family="Liberation Serif, serif" font-weight="bold" font-size="6" fill="#222" textLength="72.500" lengthAdjust="spacingAndGlyphs">Department of Industry, Science,</text><text x="1002.300" y="634.200" font-family="Liberation Serif, serif" font-weight="bold" font-size="6" fill="#222">Energy and Resources</text><line x1="1082" x2="1082" y1="610" y2="630" stroke="#999" stroke-width="0.700"/><text x="1087.800" y="621" font-size="11.200" font-weight="bold" fill="#26262e" textLength="50" lengthAdjust="spacingAndGlyphs">Business</text><text x="1088" y="629" font-size="7.600" fill="#55555f" textLength="72.500" lengthAdjust="spacingAndGlyphs">Cooperative Research</text></svg></div></body></html>
